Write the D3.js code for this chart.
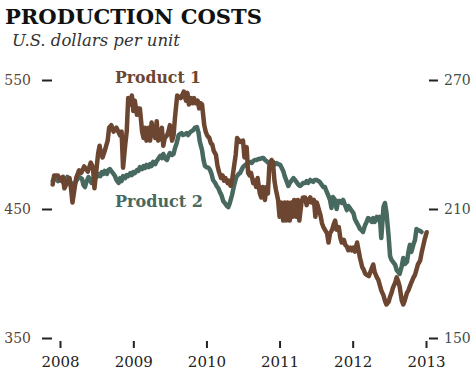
<!DOCTYPE html>
<html>
<head>
<meta charset="utf-8">
<script src="https://cdn.jsdelivr.net/npm/d3@7"></script>
<style>
  html, body { margin: 0; padding: 0; background: #ffffff; }
  svg { display: block; }
</style>
</head>
<body>
<svg id="chart" width="474" height="380"></svg>
<script>
// ---------- DATA ----------
const titleText = "PRODUCTION COSTS";
const subtitleText = "U.S. dollars per unit";
const seriesNames = ["Product 1", "Product 2"];
const yearTicks = [2008, 2009, 2010, 2011, 2012, 2013];
const leftTicks = [350, 450, 550];   // Product 1 axis
const rightTicks = [150, 210, 270];  // Product 2 axis

// Product 1 (left axis) — decimal years and values
const p1Years = [2007.90,2007.92,2007.97,2008.01,2008.04,2008.06,2008.11,2008.13,2008.15,2008.17,2008.22,2008.26,2008.29,2008.33,2008.38,2008.42,2008.45,2008.47,2008.52,2008.54,2008.56,2008.58,2008.61,2008.65,2008.67,2008.70,2008.73,2008.77,2008.82,2008.84,2008.86,2008.89,2008.91,2008.93,2008.96,2008.98,2009.00,2009.02,2009.05,2009.07,2009.09,2009.12,2009.14,2009.16,2009.18,2009.21,2009.23,2009.25,2009.27,2009.30,2009.32,2009.34,2009.37,2009.39,2009.41,2009.43,2009.46,2009.48,2009.50,2009.53,2009.55,2009.57,2009.60,2009.65,2009.69,2009.72,2009.74,2009.76,2009.79,2009.81,2009.83,2009.85,2009.88,2009.90,2009.92,2009.94,2009.97,2009.99,2010.01,2010.04,2010.06,2010.08,2010.10,2010.13,2010.15,2010.17,2010.20,2010.22,2010.24,2010.26,2010.29,2010.31,2010.33,2010.35,2010.37,2010.40,2010.42,2010.46,2010.50,2010.52,2010.55,2010.57,2010.59,2010.61,2010.64,2010.66,2010.68,2010.70,2010.73,2010.75,2010.77,2010.80,2010.82,2010.84,2010.86,2010.89,2010.91,2010.93,2010.95,2010.98,2011.00,2011.02,2011.05,2011.07,2011.09,2011.11,2011.14,2011.16,2011.18,2011.20,2011.23,2011.25,2011.27,2011.30,2011.32,2011.35,2011.37,2011.40,2011.42,2011.44,2011.47,2011.49,2011.51,2011.53,2011.56,2011.58,2011.60,2011.62,2011.65,2011.67,2011.69,2011.72,2011.74,2011.76,2011.78,2011.81,2011.83,2011.85,2011.88,2011.90,2011.92,2011.94,2011.97,2011.99,2012.01,2012.03,2012.06,2012.08,2012.10,2012.13,2012.15,2012.17,2012.19,2012.22,2012.24,2012.26,2012.28,2012.30,2012.33,2012.35,2012.37,2012.39,2012.42,2012.44,2012.46,2012.49,2012.51,2012.53,2012.55,2012.58,2012.60,2012.62,2012.64,2012.67,2012.69,2012.71,2012.74,2012.76,2012.78,2012.80,2012.83,2012.85,2012.87,2012.89,2012.92,2012.94,2012.96,2012.98,2013.01];
const p1Values = [469,476,476,472,475,466,472,474,466,455,474,480,478,483,479,486,482,466,493,499,493,490,495,503,513,515,510,513,507,510,482,500,510,536,531,538,526,534,523,528,528,510,505,513,503,513,503,517,510,505,518,503,505,513,499,505,507,510,515,503,507,521,538,536,541,534,540,531,536,532,536,532,534,528,532,531,515,510,507,505,501,500,495,492,484,479,474,476,472,474,470,472,468,472,480,492,505,502,503,490,498,478,476,478,470,472,467,474,462,459,467,457,467,462,483,488,486,472,465,457,444,455,441,455,441,455,441,455,444,457,444,457,441,455,459,459,453,457,459,455,457,444,455,451,445,439,436,434,431,424,431,434,438,441,434,436,428,424,426,422,421,418,420,418,420,417,424,418,412,405,403,400,399,398,401,404,407,401,397,395,391,387,383,379,376,378,382,385,389,393,397,394,390,379,376,379,385,387,390,393,397,399,403,407,410,416,421,426,432];

// Product 2 (right axis) — decimal years and values
const p2Years = [2007.90,2007.93,2007.97,2008.01,2008.05,2008.10,2008.14,2008.18,2008.22,2008.26,2008.30,2008.32,2008.34,2008.36,2008.39,2008.41,2008.43,2008.45,2008.48,2008.50,2008.52,2008.55,2008.57,2008.59,2008.61,2008.64,2008.66,2008.68,2008.71,2008.73,2008.75,2008.77,2008.80,2008.82,2008.84,2008.86,2008.89,2008.91,2008.93,2008.96,2008.98,2009.00,2009.02,2009.05,2009.07,2009.09,2009.12,2009.14,2009.16,2009.18,2009.21,2009.23,2009.25,2009.27,2009.30,2009.32,2009.34,2009.37,2009.39,2009.41,2009.43,2009.46,2009.48,2009.50,2009.53,2009.55,2009.57,2009.59,2009.62,2009.64,2009.66,2009.68,2009.71,2009.73,2009.75,2009.78,2009.80,2009.82,2009.84,2009.87,2009.89,2009.91,2009.94,2009.96,2009.98,2010.00,2010.03,2010.05,2010.07,2010.09,2010.12,2010.14,2010.16,2010.19,2010.21,2010.23,2010.25,2010.28,2010.30,2010.32,2010.35,2010.37,2010.39,2010.41,2010.44,2010.46,2010.48,2010.50,2010.53,2010.55,2010.57,2010.60,2010.62,2010.64,2010.66,2010.69,2010.71,2010.73,2010.76,2010.78,2010.80,2010.82,2010.85,2010.87,2010.89,2010.91,2010.94,2010.96,2010.98,2011.01,2011.03,2011.05,2011.07,2011.10,2011.12,2011.14,2011.17,2011.19,2011.21,2011.23,2011.26,2011.28,2011.30,2011.32,2011.35,2011.37,2011.39,2011.42,2011.44,2011.46,2011.48,2011.51,2011.53,2011.55,2011.57,2011.60,2011.62,2011.64,2011.67,2011.69,2011.71,2011.73,2011.76,2011.78,2011.80,2011.83,2011.85,2011.87,2011.89,2011.92,2011.94,2011.96,2011.98,2012.01,2012.03,2012.05,2012.08,2012.10,2012.12,2012.14,2012.17,2012.19,2012.21,2012.23,2012.26,2012.28,2012.30,2012.33,2012.35,2012.37,2012.39,2012.42,2012.44,2012.46,2012.49,2012.51,2012.53,2012.55,2012.58,2012.60,2012.62,2012.64,2012.67,2012.69,2012.71,2012.74,2012.76,2012.78,2012.80,2012.83,2012.85,2012.87,2012.89,2012.92,2012.94];
const p2Values = [223.0,224.9,223.0,224.4,222.1,224.9,222.6,220.7,223.0,224.9,224.0,221.2,220.2,222.6,224.9,223.5,222.1,224.0,224.9,224.9,226.3,225.3,227.2,226.3,227.7,226.3,228.1,228.6,227.2,226.3,225.3,223.5,222.1,224.4,223.0,225.3,224.4,225.8,225.3,226.7,225.8,227.2,226.7,228.1,227.7,229.5,228.6,230.0,229.1,230.5,229.5,230.9,230.0,231.9,230.9,232.3,233.3,234.7,233.7,235.6,233.7,232.8,234.7,236.0,235.1,235.6,238.4,240.2,244.4,244.9,245.3,244.4,244.9,245.3,244.4,245.8,246.3,246.7,247.7,248.1,245.8,241.2,237.4,232.8,230.0,229.5,229.1,228.1,226.3,223.5,222.1,220.7,219.8,217.4,216.0,213.7,212.8,211.4,210.9,212.8,216.5,219.8,222.6,224.9,226.3,226.7,228.1,229.5,230.5,230.9,231.4,231.9,231.4,232.3,232.8,232.8,233.3,233.3,233.7,233.7,232.8,232.3,231.4,231.4,231.9,231.9,230.9,231.4,230.9,230.5,229.1,227.7,225.3,222.6,220.7,222.1,223.5,224.4,223.5,222.6,221.2,220.7,221.2,222.1,222.1,223.0,222.1,223.5,223.0,222.6,223.5,223.5,223.0,222.6,221.6,220.2,220.2,218.4,216.0,214.2,210.5,215.6,214.2,210.0,213.7,213.7,212.8,214.2,212.3,209.5,211.4,210.5,209.5,208.1,205.4,204.0,202.1,200.7,200.2,199.3,202.6,204.0,205.8,205.4,204.0,205.8,204.0,206.3,204.9,206.3,196.5,210.9,212.8,208.6,197.4,188.1,186.3,185.4,184.0,181.6,180.7,179.8,183.5,187.2,184.4,185.4,190.0,193.3,190.0,193.7,195.6,200.7,200.2,199.8,199.3];

// ---------- CHART ----------
const COL1 = "#6c4631";
const COL2 = "#48695f";
const TEXT = "#222222";

function toDate(t) {
  const y = Math.floor(t);
  const start = new Date(y, 0, 1).getTime();
  const end = new Date(y + 1, 0, 1).getTime();
  return new Date(start + (t - y) * (end - start));
}

const svg = d3.select("#chart");

const x = d3.scaleTime()
  .domain([new Date(2008, 0, 1), new Date(2013, 0, 1)])
  .range([60, 426]);
const yL = d3.scaleLinear().domain([350, 550]).range([338, 80]);
const yR = d3.scaleLinear().domain([150, 270]).range([338, 80]);

// Title
svg.append("text")
  .attr("x", 5).attr("y", 24)
  .attr("font-family", "'DejaVu Serif', serif")
  .attr("font-weight", "bold")
  .attr("font-size", 20)
  .attr("fill", "#111")
  .attr("textLength", 257)
  .attr("lengthAdjust", "spacingAndGlyphs")
  .text(titleText);

svg.append("text")
  .attr("x", 12).attr("y", 46)
  .attr("font-family", "'DejaVu Serif', serif")
  .attr("font-style", "italic")
  .attr("font-size", 16)
  .attr("fill", "#333")
  .attr("textLength", 168)
  .attr("lengthAdjust", "spacingAndGlyphs")
  .text(subtitleText);

// Axes
function styleAxis(g, color) {
  g.select(".domain").remove();
  g.selectAll(".tick line").attr("stroke", "#222").attr("stroke-width", 2);
  g.selectAll(".tick text")
    .attr("font-family", "'DejaVu Serif', serif")
    .attr("font-size", 14)
    .attr("fill", color);
}

const gL = svg.append("g").attr("transform", "translate(52,0)")
  .call(d3.axisLeft(yL).tickValues(leftTicks).tickSize(10).tickPadding(11).tickFormat(d3.format("d")));
styleAxis(gL, "#5a4536");

const gR = svg.append("g").attr("transform", "translate(429,0)")
  .call(d3.axisRight(yR).tickValues(rightTicks).tickSize(9).tickPadding(6).tickFormat(d3.format("d")));
styleAxis(gR, "#3d4f49");

const gX = svg.append("g").attr("transform", "translate(0,341)")
  .call(d3.axisBottom(x).tickValues(yearTicks.map(yy => new Date(yy, 0, 1))).tickSize(7).tickPadding(8).tickFormat(d3.timeFormat("%Y")));
styleAxis(gX, TEXT);
gX.selectAll(".tick text").attr("font-size", 15);

// Lines
const p1 = p1Years.map((t, i) => ({ date: toDate(t), value: p1Values[i] }));
const p2 = p2Years.map((t, i) => ({ date: toDate(t), value: p2Values[i] }));

const line1 = d3.line().x(d => x(d.date)).y(d => yL(d.value));
const line2 = d3.line().x(d => x(d.date)).y(d => yR(d.value));

svg.append("path").datum(p2)
  .attr("d", line2)
  .attr("fill", "none")
  .attr("stroke", COL2)
  .attr("stroke-width", 4.5)
  .attr("stroke-linejoin", "round")
  .attr("stroke-linecap", "round");

svg.append("path").datum(p1)
  .attr("d", line1)
  .attr("fill", "none")
  .attr("stroke", COL1)
  .attr("stroke-width", 4.5)
  .attr("stroke-linejoin", "round")
  .attr("stroke-linecap", "round");

// Series labels
svg.append("text")
  .attr("x", 115).attr("y", 83)
  .attr("font-family", "'DejaVu Serif', serif")
  .attr("font-weight", "bold")
  .attr("font-size", 17)
  .attr("fill", COL1)
  .attr("textLength", 86)
  .attr("lengthAdjust", "spacingAndGlyphs")
  .text(seriesNames[0]);

svg.append("text")
  .attr("x", 115).attr("y", 207)
  .attr("font-family", "'DejaVu Serif', serif")
  .attr("font-weight", "bold")
  .attr("font-size", 17)
  .attr("fill", COL2)
  .attr("textLength", 88)
  .attr("lengthAdjust", "spacingAndGlyphs")
  .text(seriesNames[1]);
</script>
</body>
</html>
